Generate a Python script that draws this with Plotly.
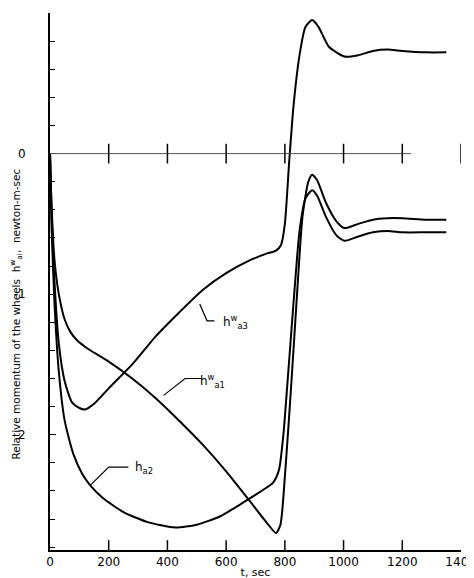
import plotly.graph_objects as go

# readings (t in sec, momentum in newton-m-sec)
t_a1 = [0, 5, 15, 30, 50, 70, 93, 130, 200, 280, 360, 440, 520, 600, 680, 740, 770, 785, 800, 820, 840, 860, 880, 893, 910, 940, 975, 1003, 1050, 1100, 1150, 1200, 1280, 1350]
h_a1 = [0, -0.35, -0.75, -1.0, -1.18, -1.27, -1.33, -1.39, -1.48, -1.6, -1.74, -1.9, -2.07, -2.26, -2.47, -2.63, -2.7, -2.64, -2.3, -1.7, -1.05, -0.45, -0.2, -0.15, -0.19, -0.35, -0.48, -0.53, -0.5, -0.47, -0.46, -0.46, -0.47, -0.47]

t_a2 = [0, 5, 15, 30, 50, 80, 110, 137, 180, 250, 330, 427, 500, 580, 660, 720, 760, 780, 795, 810, 830, 850, 870, 893, 910, 940, 975, 1003, 1050, 1100, 1150, 1200, 1280, 1350]
h_a2 = [0, -0.5, -1.05, -1.55, -1.9, -2.14, -2.28, -2.36, -2.45, -2.55, -2.62, -2.66, -2.64, -2.58, -2.48, -2.4, -2.34, -2.25, -2.0, -1.6, -1.05, -0.55, -0.32, -0.26, -0.3, -0.45, -0.58, -0.62, -0.59, -0.56, -0.55, -0.56, -0.56, -0.56]

t_a3 = [0, 5, 15, 30, 50, 75, 100, 120, 150, 200, 280, 360, 440, 520, 600, 680, 740, 770, 787, 800, 815, 830, 850, 870, 893, 915, 950, 1003, 1050, 1100, 1150, 1200, 1280, 1350]
h_a3 = [0, -0.4, -0.9, -1.35, -1.62, -1.77, -1.81, -1.82, -1.78, -1.67, -1.5, -1.3, -1.13, -0.97, -0.85, -0.76, -0.71, -0.69, -0.65, -0.5, -0.05, 0.35, 0.7, 0.9, 0.95, 0.9, 0.76, 0.69, 0.7, 0.73, 0.74, 0.73, 0.72, 0.72]

x_ticks = [0, 200, 400, 600, 800, 1000, 1200, 1400]
x_labels = ["0", "200", "400", "600", "800", "1000", "1200", "140C"]
y_ticks = [1, 0, -1, -2]
y_labels = ["1", "0", "-1", "-2"]

FONT = "DejaVu Sans"
fig = go.Figure()
for t, h in [(t_a1, h_a1), (t_a2, h_a2), (t_a3, h_a3)]:
    fig.add_trace(go.Scatter(x=t, y=h, mode="lines", line=dict(color="black", width=2, shape="spline", smoothing=0.6),
                             showlegend=False, hoverinfo="skip", cliponaxis=False))

# zero line with its ticks
fig.add_shape(type="line", x0=0, x1=1230, y0=0, y1=0, line=dict(color="#555", width=1))
for xt in x_ticks[1:]:
    fig.add_shape(type="line", x0=xt, x1=xt, y0=-0.07, y1=0.07, line=dict(color="black", width=1.5))
# small ticks on the bottom axis
for xt in x_ticks[1:-1]:
    fig.add_shape(type="line", x0=xt, x1=xt, y0=-2.82, y1=-2.75, line=dict(color="black", width=1.5))

# labels with leader lines
leaders = [
    ([510, 535, 560], [-1.07, -1.19, -1.19], 633, -1.2, "h<sup>w</sup><sub>a3</sub>"),
    ([387, 460, 517], [-1.72, -1.6, -1.6], 555, -1.62, "h<sup>w</sup><sub>a1</sub>"),
    ([137, 200, 267], [-2.36, -2.23, -2.23], 320, -2.24, "h<sub>a2</sub>"),
]
for lx, ly, tx, ty, txt in leaders:
    fig.add_trace(go.Scatter(x=lx, y=ly, mode="lines", line=dict(color="black", width=1.2), showlegend=False, hoverinfo="skip"))
    fig.add_annotation(x=tx, y=ty, text=txt, showarrow=False, font=dict(family=FONT, size=12, color="black"))

fig.add_annotation(xref="paper", yref="paper", x=-0.083, xanchor="center", y=0.44,
                   text="Relative momentum of the wheels  h<sup>w</sup><sub>ai</sub>,  newton-m-sec",
                   textangle=-90, showarrow=False, font=dict(family=FONT, size=10.5, color="black"))

fig.update_layout(
    width=474, height=578, margin=dict(l=42, r=16, t=5, b=36),
    plot_bgcolor="white", paper_bgcolor="white",
    font=dict(family=FONT, size=12, color="black"),
    xaxis=dict(range=[0, 1400], tickvals=x_ticks, ticktext=x_labels, showgrid=False, zeroline=False,
               showline=True, linecolor="black", linewidth=2, ticks="",
               title=dict(text="t, sec", standoff=0, font=dict(size=11))),
    yaxis=dict(range=[-2.82, 1.0], tickvals=y_ticks, ticktext=y_labels, showgrid=False, zeroline=False,
               showline=True, linecolor="black", linewidth=2, ticks="inside", ticklen=6, tickcolor="black",
               minor=dict(dtick=0.2, ticks="inside", ticklen=5, tickcolor="black"), ticklabelstandoff=20),
)
fig.write_html("out.html")
